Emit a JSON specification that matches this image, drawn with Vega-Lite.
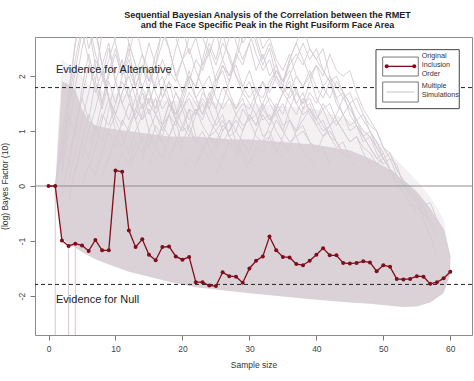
{
"$schema": "https://vega.github.io/schema/vega-lite/v6.json",
"autosize": "none",
"width": 437,
"height": 298,
"padding": {"left": 35, "top": 37, "right": 2, "bottom": 46},
"background": "white",
"title": {"text": ["Sequential Bayesian Analysis of the Correlation between the RMET", "and the Face Specific Peak in the Right Fusiform Face Area"], "fontSize": 9, "fontWeight": "bold", "font": "Liberation Sans", "color": "#222222", "anchor": "middle", "frame": "group", "dx": 14, "offset": 7, "lineHeight": 10.5},
"config": {
  "font": "Liberation Sans",
  "view": {"stroke": "#8c8c8c", "strokeWidth": 1},
  "axis": {"grid": false, "domain": false, "tickColor": "#777777", "tickSize": 5, "labelColor": "#444444", "labelFontSize": 8.5, "titleColor": "#333333", "titleFontSize": 8.5, "titleFontWeight": "normal", "labelFont": "Liberation Sans", "titleFont": "Liberation Sans"}
},
"datasets": {
  "red": [
    {"n":0,"bf":0},{"n":1,"bf":0},{"n":2,"bf":-0.99},{"n":3,"bf":-1.09},{"n":4,"bf":-1.05},{"n":5,"bf":-1.08},{"n":6,"bf":-1.18},{"n":7,"bf":-0.98},{"n":8,"bf":-1.17},{"n":9,"bf":-1.17},
    {"n":10,"bf":0.28},{"n":11,"bf":0.26},{"n":12,"bf":-0.81},{"n":13,"bf":-1.11},{"n":14,"bf":-0.97},{"n":15,"bf":-1.25},{"n":16,"bf":-1.35},{"n":17,"bf":-1.11},{"n":18,"bf":-1.10},{"n":19,"bf":-1.28},
    {"n":20,"bf":-1.34},{"n":21,"bf":-1.29},{"n":22,"bf":-1.75},{"n":23,"bf":-1.75},{"n":24,"bf":-1.81},{"n":25,"bf":-1.82},{"n":26,"bf":-1.57},{"n":27,"bf":-1.64},{"n":28,"bf":-1.65},{"n":29,"bf":-1.76},
    {"n":30,"bf":-1.50},{"n":31,"bf":-1.36},{"n":32,"bf":-1.28},{"n":33,"bf":-0.92},{"n":34,"bf":-1.17},{"n":35,"bf":-1.29},{"n":36,"bf":-1.30},{"n":37,"bf":-1.42},{"n":38,"bf":-1.44},{"n":39,"bf":-1.36},
    {"n":40,"bf":-1.25},{"n":41,"bf":-1.13},{"n":42,"bf":-1.26},{"n":43,"bf":-1.26},{"n":44,"bf":-1.40},{"n":45,"bf":-1.41},{"n":46,"bf":-1.40},{"n":47,"bf":-1.37},{"n":48,"bf":-1.39},{"n":49,"bf":-1.55},
    {"n":50,"bf":-1.44},{"n":51,"bf":-1.47},{"n":52,"bf":-1.69},{"n":53,"bf":-1.70},{"n":54,"bf":-1.69},{"n":55,"bf":-1.64},{"n":56,"bf":-1.65},{"n":57,"bf":-1.78},{"n":58,"bf":-1.75},{"n":59,"bf":-1.68},{"n":60,"bf":-1.56}
  ],
  "band": [
    {"n":1,"lo":0,"hi":0,"hi2":0},{"n":2,"lo":-0.95,"hi":1.9,"hi2":2.3},{"n":3,"lo":-1.05,"hi":1.85,"hi2":2.2},{"n":4,"lo":-1.12,"hi":1.75,"hi2":2.1},{"n":5,"lo":-1.2,"hi":1.4,"hi2":2.0},
    {"n":6,"lo":-1.27,"hi":1.2,"hi2":1.85},{"n":7,"lo":-1.33,"hi":1.1,"hi2":1.75},{"n":9,"lo":-1.43,"hi":1.05,"hi2":1.7},{"n":12,"lo":-1.56,"hi":1.0,"hi2":1.65},{"n":15,"lo":-1.65,"hi":0.95,"hi2":1.6},
    {"n":18,"lo":-1.74,"hi":0.9,"hi2":1.55},{"n":22,"lo":-1.84,"hi":0.9,"hi2":1.55},{"n":27,"lo":-1.91,"hi":0.85,"hi2":1.5},{"n":30,"lo":-1.95,"hi":0.85,"hi2":1.5},{"n":35,"lo":-2.01,"hi":0.8,"hi2":1.45},
    {"n":40,"lo":-2.07,"hi":0.75,"hi2":1.4},{"n":45,"lo":-2.12,"hi":0.65,"hi2":1.2},{"n":48,"lo":-2.14,"hi":0.5,"hi2":0.95},{"n":51,"lo":-2.18,"hi":0.3,"hi2":0.6},{"n":53,"lo":-2.2,"hi":0.1,"hi2":0.35},
    {"n":55,"lo":-2.19,"hi":-0.1,"hi2":0.1},{"n":57,"lo":-2.12,"hi":-0.4,"hi2":-0.2},{"n":59,"lo":-1.95,"hi":-0.8,"hi2":-0.6},{"n":60,"lo":-1.6,"hi":-1.3,"hi2":-1.3}
  ],
  "vert": [{"n":1,"top":0},{"n":3,"top":-1.05},{"n":4,"top":-1.1}],
  "legendText": [
    {"label":"Original","v":2.358},{"label":"Inclusion","v":2.195},{"label":"Order","v":2.044},{"label":"Multiple","v":1.813},{"label":"Simulations","v":1.649}
  ],
  "sims": [
    {"s":1,"n":1,"y":0},{"s":1,"n":2,"y":0.9},{"s":1,"n":3,"y":1.7},{"s":1,"n":4,"y":2.6},{"s":1,"n":5,"y":3.1},{"s":1,"n":6,"y":2.5},{"s":1,"n":7,"y":2.9},{"s":1,"n":8,"y":2.2},{"s":1,"n":9,"y":2.6},{"s":1,"n":10,"y":1.9},{"s":1,"n":11,"y":2.3},{"s":1,"n":12,"y":1.6},{"s":1,"n":13,"y":1.2},{"s":1,"n":14,"y":1.5},{"s":1,"n":15,"y":1.0},{"s":1,"n":16,"y":0.7},
    {"s":2,"n":1,"y":0},{"s":2,"n":2,"y":0.6},{"s":2,"n":3,"y":1.3},{"s":2,"n":4,"y":0.9},{"s":2,"n":5,"y":1.8},{"s":2,"n":6,"y":2.4},{"s":2,"n":7,"y":1.9},{"s":2,"n":8,"y":2.8},{"s":2,"n":9,"y":3.2},{"s":2,"n":10,"y":2.6},{"s":2,"n":11,"y":2.1},{"s":2,"n":12,"y":2.5},{"s":2,"n":13,"y":1.8},{"s":2,"n":14,"y":1.4},{"s":2,"n":15,"y":1.8},{"s":2,"n":16,"y":1.3},{"s":2,"n":17,"y":1.0},{"s":2,"n":18,"y":1.3},{"s":2,"n":19,"y":0.9},{"s":2,"n":20,"y":0.6},
    {"s":3,"n":2,"y":-0.2},{"s":3,"n":3,"y":0.5},{"s":3,"n":4,"y":1.1},{"s":3,"n":5,"y":1.6},{"s":3,"n":6,"y":1.2},{"s":3,"n":7,"y":1.9},{"s":3,"n":8,"y":1.5},{"s":3,"n":9,"y":2.1},{"s":3,"n":10,"y":2.5},{"s":3,"n":11,"y":2.0},{"s":3,"n":12,"y":2.4},{"s":3,"n":13,"y":2.9},{"s":3,"n":14,"y":2.4},{"s":3,"n":15,"y":1.9},{"s":3,"n":16,"y":2.2},{"s":3,"n":17,"y":1.6},{"s":3,"n":18,"y":1.9},{"s":3,"n":19,"y":1.4},{"s":3,"n":20,"y":1.1},{"s":3,"n":21,"y":1.4},{"s":3,"n":22,"y":0.9},{"s":3,"n":23,"y":0.7},{"s":3,"n":24,"y":0.5},
    {"s":4,"n":3,"y":-0.3},{"s":4,"n":4,"y":0.3},{"s":4,"n":5,"y":0.8},{"s":4,"n":6,"y":0.5},{"s":4,"n":7,"y":1.1},{"s":4,"n":8,"y":0.8},{"s":4,"n":9,"y":1.4},{"s":4,"n":10,"y":1.9},{"s":4,"n":11,"y":1.5},{"s":4,"n":12,"y":1.2},{"s":4,"n":13,"y":1.6},{"s":4,"n":14,"y":2.1},{"s":4,"n":15,"y":2.6},{"s":4,"n":16,"y":2.2},{"s":4,"n":17,"y":2.9},{"s":4,"n":18,"y":2.5},{"s":4,"n":19,"y":2.0},{"s":4,"n":20,"y":1.7},{"s":4,"n":21,"y":2.1},{"s":4,"n":22,"y":1.6},{"s":4,"n":23,"y":1.3},{"s":4,"n":24,"y":1.7},{"s":4,"n":25,"y":1.4},{"s":4,"n":26,"y":1.0},{"s":4,"n":27,"y":1.2},{"s":4,"n":28,"y":0.8},{"s":4,"n":29,"y":0.6},{"s":4,"n":30,"y":0.4},
    {"s":5,"n":5,"y":0.0},{"s":5,"n":6,"y":0.4},{"s":5,"n":7,"y":0.2},{"s":5,"n":8,"y":0.6},{"s":5,"n":9,"y":1.0},{"s":5,"n":10,"y":0.7},{"s":5,"n":11,"y":1.2},{"s":5,"n":12,"y":1.0},{"s":5,"n":13,"y":1.4},{"s":5,"n":14,"y":1.8},{"s":5,"n":15,"y":1.5},{"s":5,"n":16,"y":1.9},{"s":5,"n":17,"y":2.3},{"s":5,"n":18,"y":2.0},{"s":5,"n":19,"y":2.5},{"s":5,"n":20,"y":2.9},{"s":5,"n":21,"y":2.4},{"s":5,"n":22,"y":2.7},{"s":5,"n":23,"y":2.2},{"s":5,"n":24,"y":2.4},{"s":5,"n":25,"y":1.9},{"s":5,"n":26,"y":2.1},{"s":5,"n":27,"y":1.7},{"s":5,"n":28,"y":1.4},{"s":5,"n":29,"y":1.6},{"s":5,"n":30,"y":1.2},{"s":5,"n":31,"y":1.3},{"s":5,"n":32,"y":0.9},{"s":5,"n":33,"y":1.0},{"s":5,"n":34,"y":0.7},{"s":5,"n":35,"y":0.5},
    {"s":6,"n":10,"y":0.3},{"s":6,"n":11,"y":0.6},{"s":6,"n":12,"y":0.4},{"s":6,"n":13,"y":0.8},{"s":6,"n":14,"y":0.6},{"s":6,"n":15,"y":1.0},{"s":6,"n":16,"y":1.3},{"s":6,"n":17,"y":1.1},{"s":6,"n":18,"y":1.5},{"s":6,"n":19,"y":1.2},{"s":6,"n":20,"y":1.6},{"s":6,"n":21,"y":2.0},{"s":6,"n":22,"y":1.8},{"s":6,"n":23,"y":2.2},{"s":6,"n":24,"y":2.6},{"s":6,"n":25,"y":2.3},{"s":6,"n":26,"y":2.8},{"s":6,"n":27,"y":3.1},{"s":6,"n":28,"y":2.6},{"s":6,"n":29,"y":2.3},{"s":6,"n":30,"y":2.6},{"s":6,"n":31,"y":2.1},{"s":6,"n":32,"y":2.4},{"s":6,"n":33,"y":2.0},{"s":6,"n":34,"y":2.2},{"s":6,"n":35,"y":1.8},{"s":6,"n":36,"y":1.6},{"s":6,"n":37,"y":1.8},{"s":6,"n":38,"y":1.4},{"s":6,"n":39,"y":1.5},{"s":6,"n":40,"y":1.2},{"s":6,"n":41,"y":1.0},{"s":6,"n":42,"y":1.1},{"s":6,"n":43,"y":0.8},{"s":6,"n":44,"y":0.6},{"s":6,"n":45,"y":0.5},
    {"s":7,"n":15,"y":0.4},{"s":7,"n":16,"y":0.7},{"s":7,"n":17,"y":0.5},{"s":7,"n":18,"y":0.9},{"s":7,"n":19,"y":1.2},{"s":7,"n":20,"y":1.0},{"s":7,"n":21,"y":1.4},{"s":7,"n":22,"y":1.3},{"s":7,"n":23,"y":1.7},{"s":7,"n":24,"y":1.5},{"s":7,"n":25,"y":1.9},{"s":7,"n":26,"y":2.2},{"s":7,"n":27,"y":2.0},{"s":7,"n":28,"y":2.4},{"s":7,"n":29,"y":2.2},{"s":7,"n":30,"y":2.6},{"s":7,"n":31,"y":2.9},{"s":7,"n":32,"y":2.5},{"s":7,"n":33,"y":2.7},{"s":7,"n":34,"y":2.3},{"s":7,"n":35,"y":2.1},{"s":7,"n":36,"y":2.4},{"s":7,"n":37,"y":2.0},{"s":7,"n":38,"y":1.8},{"s":7,"n":39,"y":2.0},{"s":7,"n":40,"y":1.6},{"s":7,"n":41,"y":1.4},{"s":7,"n":42,"y":1.5},{"s":7,"n":43,"y":1.2},{"s":7,"n":44,"y":1.0},{"s":7,"n":45,"y":0.8},{"s":7,"n":46,"y":0.9},{"s":7,"n":47,"y":0.6},{"s":7,"n":48,"y":0.4},
    {"s":8,"n":20,"y":0.3},{"s":8,"n":21,"y":0.5},{"s":8,"n":22,"y":0.4},{"s":8,"n":23,"y":0.7},{"s":8,"n":24,"y":0.9},{"s":8,"n":25,"y":0.8},{"s":8,"n":26,"y":1.1},{"s":8,"n":27,"y":1.0},{"s":8,"n":28,"y":1.3},{"s":8,"n":29,"y":1.5},{"s":8,"n":30,"y":1.4},{"s":8,"n":31,"y":1.7},{"s":8,"n":32,"y":1.6},{"s":8,"n":33,"y":1.9},{"s":8,"n":34,"y":2.1},{"s":8,"n":35,"y":1.9},{"s":8,"n":36,"y":2.2},{"s":8,"n":37,"y":2.4},{"s":8,"n":38,"y":2.2},{"s":8,"n":39,"y":2.5},{"s":8,"n":40,"y":2.3},{"s":8,"n":41,"y":2.1},{"s":8,"n":42,"y":1.9},{"s":8,"n":43,"y":2.0},{"s":8,"n":44,"y":1.7},{"s":8,"n":45,"y":1.5},{"s":8,"n":46,"y":1.6},{"s":8,"n":47,"y":1.3},{"s":8,"n":48,"y":1.1},{"s":8,"n":49,"y":1.0},{"s":8,"n":50,"y":0.7},{"s":8,"n":51,"y":0.6},{"s":8,"n":52,"y":0.3},{"s":8,"n":53,"y":0.1},{"s":8,"n":54,"y":-0.2},{"s":8,"n":55,"y":-0.3},{"s":8,"n":56,"y":-0.6},{"s":8,"n":57,"y":-0.9},{"s":8,"n":58,"y":-1.3},
    {"s":9,"n":30,"y":0.4},{"s":9,"n":31,"y":0.7},{"s":9,"n":32,"y":0.6},{"s":9,"n":33,"y":0.9},{"s":9,"n":34,"y":1.2},{"s":9,"n":35,"y":1.0},{"s":9,"n":36,"y":1.4},{"s":9,"n":37,"y":1.7},{"s":9,"n":38,"y":1.5},{"s":9,"n":39,"y":1.9},{"s":9,"n":40,"y":2.2},{"s":9,"n":41,"y":2.0},{"s":9,"n":42,"y":2.4},{"s":9,"n":43,"y":2.1},{"s":9,"n":44,"y":2.0},{"s":9,"n":45,"y":2.1},{"s":9,"n":46,"y":1.7},{"s":9,"n":47,"y":1.4},{"s":9,"n":48,"y":1.2},{"s":9,"n":49,"y":1.0},{"s":9,"n":50,"y":0.7},{"s":9,"n":51,"y":0.5},{"s":9,"n":52,"y":0.4},{"s":9,"n":53,"y":0.0},{"s":9,"n":54,"y":-0.1},{"s":9,"n":55,"y":-0.2},{"s":9,"n":56,"y":-0.35},{"s":9,"n":57,"y":-0.3},{"s":9,"n":58,"y":-0.6},{"s":9,"n":59,"y":-0.8},{"s":9,"n":60,"y":-1.3},
    {"s":10,"n":25,"y":0.2},{"s":10,"n":26,"y":0.5},{"s":10,"n":27,"y":0.8},{"s":10,"n":28,"y":0.6},{"s":10,"n":29,"y":1.0},{"s":10,"n":30,"y":1.3},{"s":10,"n":31,"y":1.1},{"s":10,"n":32,"y":1.5},{"s":10,"n":33,"y":1.8},{"s":10,"n":34,"y":2.1},{"s":10,"n":35,"y":1.9},{"s":10,"n":36,"y":2.3},{"s":10,"n":37,"y":2.6},{"s":10,"n":38,"y":2.3},{"s":10,"n":39,"y":2.0},{"s":10,"n":40,"y":2.2},{"s":10,"n":41,"y":1.8},{"s":10,"n":42,"y":2.0},{"s":10,"n":43,"y":1.6},{"s":10,"n":44,"y":1.3},{"s":10,"n":45,"y":1.5},{"s":10,"n":46,"y":1.1},{"s":10,"n":47,"y":0.9},{"s":10,"n":48,"y":1.0},{"s":10,"n":49,"y":0.7},{"s":10,"n":50,"y":0.5},{"s":10,"n":51,"y":0.6},{"s":10,"n":52,"y":0.3},{"s":10,"n":53,"y":0.1},{"s":10,"n":54,"y":0.0},{"s":10,"n":55,"y":-0.2},{"s":10,"n":56,"y":-0.4},{"s":10,"n":57,"y":-0.7},
    {"s":11,"n":8,"y":0.2},{"s":11,"n":9,"y":0.5},{"s":11,"n":10,"y":0.9},{"s":11,"n":11,"y":0.7},{"s":11,"n":12,"y":1.1},{"s":11,"n":13,"y":1.4},{"s":11,"n":14,"y":1.2},{"s":11,"n":15,"y":1.6},{"s":11,"n":16,"y":1.4},{"s":11,"n":17,"y":1.8},{"s":11,"n":18,"y":2.1},{"s":11,"n":19,"y":1.9},{"s":11,"n":20,"y":2.3},{"s":11,"n":21,"y":2.7},{"s":11,"n":22,"y":3.1},{"s":11,"n":23,"y":2.7},{"s":11,"n":24,"y":2.4},{"s":11,"n":25,"y":2.8},{"s":11,"n":26,"y":2.3},{"s":11,"n":27,"y":2.0},{"s":11,"n":28,"y":2.2},{"s":11,"n":29,"y":1.8},{"s":11,"n":30,"y":1.6},{"s":11,"n":31,"y":1.8},{"s":11,"n":32,"y":1.4},{"s":11,"n":33,"y":1.2},{"s":11,"n":34,"y":1.3},{"s":11,"n":35,"y":1.0},{"s":11,"n":36,"y":0.8},{"s":11,"n":37,"y":0.9},{"s":11,"n":38,"y":0.6},{"s":11,"n":39,"y":0.5},{"s":11,"n":40,"y":0.3},
    {"s":12,"n":2,"y":0.2},{"s":12,"n":3,"y":1.0},{"s":12,"n":4,"y":1.8},{"s":12,"n":5,"y":2.5},{"s":12,"n":6,"y":3.0},{"s":12,"n":7,"y":2.4},{"s":12,"n":8,"y":2.0},{"s":12,"n":9,"y":2.5},{"s":12,"n":10,"y":1.9},{"s":12,"n":11,"y":1.5},{"s":12,"n":12,"y":1.8},{"s":12,"n":13,"y":1.2},{"s":12,"n":14,"y":0.8},
    {"s":13,"n":3,"y":0.3},{"s":13,"n":4,"y":1.1},{"s":13,"n":5,"y":1.6},{"s":13,"n":6,"y":2.2},{"s":13,"n":7,"y":1.8},{"s":13,"n":8,"y":1.4},{"s":13,"n":9,"y":1.9},{"s":13,"n":10,"y":1.5},{"s":13,"n":11,"y":2.0},{"s":13,"n":12,"y":2.6},{"s":13,"n":13,"y":2.2},{"s":13,"n":14,"y":1.7},{"s":13,"n":15,"y":1.3},{"s":13,"n":16,"y":1.6},{"s":13,"n":17,"y":1.1},{"s":13,"n":18,"y":0.9},{"s":13,"n":19,"y":1.2},{"s":13,"n":20,"y":0.7},
    {"s":14,"n":12,"y":0.3},{"s":14,"n":13,"y":0.6},{"s":14,"n":14,"y":0.9},{"s":14,"n":15,"y":0.7},{"s":14,"n":16,"y":1.1},{"s":14,"n":17,"y":0.9},{"s":14,"n":18,"y":1.3},{"s":14,"n":19,"y":1.7},{"s":14,"n":20,"y":1.5},{"s":14,"n":21,"y":1.9},{"s":14,"n":22,"y":2.3},{"s":14,"n":23,"y":2.1},{"s":14,"n":24,"y":2.5},{"s":14,"n":25,"y":2.2},{"s":14,"n":26,"y":2.6},{"s":14,"n":27,"y":2.4},{"s":14,"n":28,"y":2.0},{"s":14,"n":29,"y":1.8},{"s":14,"n":30,"y":2.1},{"s":14,"n":31,"y":1.7},{"s":14,"n":32,"y":1.9},{"s":14,"n":33,"y":1.5},{"s":14,"n":34,"y":1.3},{"s":14,"n":35,"y":1.5},{"s":14,"n":36,"y":1.2},{"s":14,"n":37,"y":1.0},{"s":14,"n":38,"y":1.1},{"s":14,"n":39,"y":0.8},{"s":14,"n":40,"y":0.6},{"s":14,"n":41,"y":0.7},{"s":14,"n":42,"y":0.4},
    {"s":15,"n":18,"y":0.5},{"s":15,"n":19,"y":0.8},{"s":15,"n":20,"y":1.1},{"s":15,"n":21,"y":0.9},{"s":15,"n":22,"y":1.3},{"s":15,"n":23,"y":1.6},{"s":15,"n":24,"y":1.4},{"s":15,"n":25,"y":1.8},{"s":15,"n":26,"y":2.2},{"s":15,"n":27,"y":1.9},{"s":15,"n":28,"y":2.3},{"s":15,"n":29,"y":2.7},{"s":15,"n":30,"y":3.0},{"s":15,"n":31,"y":2.6},{"s":15,"n":32,"y":2.2},{"s":15,"n":33,"y":2.5},{"s":15,"n":34,"y":2.0},{"s":15,"n":35,"y":1.7},{"s":15,"n":36,"y":1.9},{"s":15,"n":37,"y":1.5},{"s":15,"n":38,"y":1.7},{"s":15,"n":39,"y":1.3},{"s":15,"n":40,"y":1.1},{"s":15,"n":41,"y":1.2},{"s":15,"n":42,"y":0.9},{"s":15,"n":43,"y":0.7},{"s":15,"n":44,"y":0.8},{"s":15,"n":45,"y":0.5},{"s":15,"n":46,"y":0.3},
    {"s":16,"n":4,"y":0.2},{"s":16,"n":5,"y":0.8},{"s":16,"n":6,"y":1.3},{"s":16,"n":7,"y":1.0},{"s":16,"n":8,"y":1.5},{"s":16,"n":9,"y":2.0},{"s":16,"n":10,"y":2.4},{"s":16,"n":11,"y":2.0},{"s":16,"n":12,"y":2.3},{"s":16,"n":13,"y":1.8},{"s":16,"n":14,"y":2.2},{"s":16,"n":15,"y":1.7},{"s":16,"n":16,"y":1.4},{"s":16,"n":17,"y":1.8},{"s":16,"n":18,"y":1.5},{"s":16,"n":19,"y":1.2},{"s":16,"n":20,"y":1.4},{"s":16,"n":21,"y":1.0},{"s":16,"n":22,"y":0.8},{"s":16,"n":23,"y":1.0},{"s":16,"n":24,"y":0.7},{"s":16,"n":25,"y":0.5},{"s":16,"n":26,"y":0.3},
    {"s":17,"n":22,"y":0.4},{"s":17,"n":23,"y":0.6},{"s":17,"n":24,"y":0.9},{"s":17,"n":25,"y":0.7},{"s":17,"n":26,"y":1.0},{"s":17,"n":27,"y":1.2},{"s":17,"n":28,"y":1.0},{"s":17,"n":29,"y":1.4},{"s":17,"n":30,"y":1.2},{"s":17,"n":31,"y":1.6},{"s":17,"n":32,"y":1.9},{"s":17,"n":33,"y":1.7},{"s":17,"n":34,"y":2.0},{"s":17,"n":35,"y":1.8},{"s":17,"n":36,"y":2.3},{"s":17,"n":37,"y":2.6},{"s":17,"n":38,"y":2.9},{"s":17,"n":39,"y":2.5},{"s":17,"n":40,"y":2.3},{"s":17,"n":41,"y":2.5},{"s":17,"n":42,"y":2.0},{"s":17,"n":43,"y":1.8},{"s":17,"n":44,"y":1.6},{"s":17,"n":45,"y":1.7},{"s":17,"n":46,"y":1.4},{"s":17,"n":47,"y":1.2},{"s":17,"n":48,"y":1.0},{"s":17,"n":49,"y":0.8},{"s":17,"n":50,"y":0.6},
    {"s":18,"n":6,"y":0.3},{"s":18,"n":7,"y":0.7},{"s":18,"n":8,"y":1.2},{"s":18,"n":9,"y":1.6},{"s":18,"n":10,"y":1.3},{"s":18,"n":11,"y":1.7},{"s":18,"n":12,"y":2.1},{"s":18,"n":13,"y":1.8},{"s":18,"n":14,"y":2.2},{"s":18,"n":15,"y":1.9},{"s":18,"n":16,"y":2.4},{"s":18,"n":17,"y":2.8},{"s":18,"n":18,"y":2.5},{"s":18,"n":19,"y":2.0},{"s":18,"n":20,"y":2.3},{"s":18,"n":21,"y":1.9},{"s":18,"n":22,"y":1.6},{"s":18,"n":23,"y":1.8},{"s":18,"n":24,"y":1.4},{"s":18,"n":25,"y":1.1},{"s":18,"n":26,"y":1.3},{"s":18,"n":27,"y":0.9},{"s":18,"n":28,"y":0.7},{"s":18,"n":29,"y":0.5},{"s":18,"n":30,"y":0.3},
    {"s":19,"n":28,"y":0.5},{"s":19,"n":29,"y":0.8},{"s":19,"n":30,"y":0.6},{"s":19,"n":31,"y":1.0},{"s":19,"n":32,"y":1.3},{"s":19,"n":33,"y":1.1},{"s":19,"n":34,"y":1.5},{"s":19,"n":35,"y":1.3},{"s":19,"n":36,"y":1.7},{"s":19,"n":37,"y":2.0},{"s":19,"n":38,"y":1.8},{"s":19,"n":39,"y":2.1},{"s":19,"n":40,"y":1.8},{"s":19,"n":41,"y":1.6},{"s":19,"n":42,"y":1.9},{"s":19,"n":43,"y":1.5},{"s":19,"n":44,"y":1.3},{"s":19,"n":45,"y":1.1},{"s":19,"n":46,"y":1.2},{"s":19,"n":47,"y":0.9},{"s":19,"n":48,"y":0.7},{"s":19,"n":49,"y":0.5},{"s":19,"n":50,"y":0.6},{"s":19,"n":51,"y":0.3},{"s":19,"n":52,"y":0.1},{"s":19,"n":53,"y":-0.1},{"s":19,"n":54,"y":-0.3},{"s":19,"n":55,"y":-0.5},
    {"s":20,"n":1,"y":0},{"s":20,"n":2,"y":0.7},{"s":20,"n":3,"y":1.5},{"s":20,"n":4,"y":2.3},{"s":20,"n":5,"y":2.9},{"s":20,"n":6,"y":3.3},{"s":20,"n":7,"y":2.8},{"s":20,"n":8,"y":2.2},{"s":20,"n":9,"y":1.6},{"s":20,"n":10,"y":1.0},
    {"s":21,"n":14,"y":0.5},{"s":21,"n":15,"y":0.9},{"s":21,"n":16,"y":0.7},{"s":21,"n":17,"y":1.1},{"s":21,"n":18,"y":1.5},{"s":21,"n":19,"y":1.3},{"s":21,"n":20,"y":1.7},{"s":21,"n":21,"y":2.0},{"s":21,"n":22,"y":1.8},{"s":21,"n":23,"y":2.3},{"s":21,"n":24,"y":2.8},{"s":21,"n":25,"y":3.2},{"s":21,"n":26,"y":2.8},{"s":21,"n":27,"y":2.3},{"s":21,"n":28,"y":2.0},{"s":21,"n":29,"y":1.7},{"s":21,"n":30,"y":1.9},{"s":21,"n":31,"y":1.5},{"s":21,"n":32,"y":1.2},{"s":21,"n":33,"y":1.3},{"s":21,"n":34,"y":1.0},{"s":21,"n":35,"y":0.8},{"s":21,"n":36,"y":0.6},
    {"s":22,"n":34,"y":0.6},{"s":22,"n":35,"y":0.9},{"s":22,"n":36,"y":1.2},{"s":22,"n":37,"y":1.0},{"s":22,"n":38,"y":1.4},{"s":22,"n":39,"y":1.7},{"s":22,"n":40,"y":1.5},{"s":22,"n":41,"y":1.8},{"s":22,"n":42,"y":1.6},{"s":22,"n":43,"y":1.9},{"s":22,"n":44,"y":1.7},{"s":22,"n":45,"y":1.5},{"s":22,"n":46,"y":1.2},{"s":22,"n":47,"y":1.3},{"s":22,"n":48,"y":1.0},{"s":22,"n":49,"y":0.8},{"s":22,"n":50,"y":0.5},{"s":22,"n":51,"y":0.3},{"s":22,"n":52,"y":0.0},{"s":22,"n":53,"y":-0.1},{"s":22,"n":54,"y":-0.3},{"s":22,"n":55,"y":-0.4},{"s":22,"n":56,"y":-0.5},{"s":22,"n":57,"y":-0.7},{"s":22,"n":58,"y":-0.9},
    {"s":23,"n":2,"y":0.3},{"s":23,"n":3,"y":1.3},{"s":23,"n":4,"y":2.1},{"s":23,"n":5,"y":2.8},{"s":23,"n":6,"y":2.3},{"s":23,"n":7,"y":1.7},{"s":23,"n":8,"y":2.1},{"s":23,"n":9,"y":1.6},{"s":23,"n":10,"y":1.2},{"s":23,"n":11,"y":0.9},{"s":23,"n":12,"y":0.6},
    {"s":24,"n":3,"y":0.1},{"s":24,"n":4,"y":0.6},{"s":24,"n":5,"y":1.2},{"s":24,"n":6,"y":1.7},{"s":24,"n":7,"y":2.3},{"s":24,"n":8,"y":2.0},{"s":24,"n":9,"y":1.6},{"s":24,"n":10,"y":1.3},{"s":24,"n":11,"y":1.7},{"s":24,"n":12,"y":2.0},{"s":24,"n":13,"y":1.6},{"s":24,"n":14,"y":1.2},{"s":24,"n":15,"y":1.4},{"s":24,"n":16,"y":1.0},{"s":24,"n":17,"y":0.8},{"s":24,"n":18,"y":0.6},
    {"s":25,"n":8,"y":0.6},{"s":25,"n":9,"y":1.0},{"s":25,"n":10,"y":1.3},{"s":25,"n":11,"y":1.1},{"s":25,"n":12,"y":1.5},{"s":25,"n":13,"y":1.3},{"s":25,"n":14,"y":1.7},{"s":25,"n":15,"y":1.5},{"s":25,"n":16,"y":1.3},{"s":25,"n":17,"y":1.6},{"s":25,"n":18,"y":1.9},{"s":25,"n":19,"y":1.7},{"s":25,"n":20,"y":1.4},{"s":25,"n":21,"y":1.6},{"s":25,"n":22,"y":1.3},{"s":25,"n":23,"y":1.5},{"s":25,"n":24,"y":1.2},{"s":25,"n":25,"y":1.0},{"s":25,"n":26,"y":1.2},{"s":25,"n":27,"y":0.9},{"s":25,"n":28,"y":1.0},{"s":25,"n":29,"y":0.8},{"s":25,"n":30,"y":0.6},
    {"s":26,"n":16,"y":0.8},{"s":26,"n":17,"y":1.1},{"s":26,"n":18,"y":1.3},{"s":26,"n":19,"y":1.1},{"s":26,"n":20,"y":1.4},{"s":26,"n":21,"y":1.7},{"s":26,"n":22,"y":1.5},{"s":26,"n":23,"y":1.3},{"s":26,"n":24,"y":1.6},{"s":26,"n":25,"y":1.4},{"s":26,"n":26,"y":1.8},{"s":26,"n":27,"y":1.6},{"s":26,"n":28,"y":1.4},{"s":26,"n":29,"y":1.7},{"s":26,"n":30,"y":1.5},{"s":26,"n":31,"y":1.3},{"s":26,"n":32,"y":1.5},{"s":26,"n":33,"y":1.2},{"s":26,"n":34,"y":1.4},{"s":26,"n":35,"y":1.1},{"s":26,"n":36,"y":1.2},{"s":26,"n":37,"y":0.9},{"s":26,"n":38,"y":1.0},{"s":26,"n":39,"y":0.8},{"s":26,"n":40,"y":0.7},
    {"s":27,"n":26,"y":0.8},{"s":27,"n":27,"y":1.0},{"s":27,"n":28,"y":1.2},{"s":27,"n":29,"y":1.0},{"s":27,"n":30,"y":1.3},{"s":27,"n":31,"y":1.1},{"s":27,"n":32,"y":1.4},{"s":27,"n":33,"y":1.6},{"s":27,"n":34,"y":1.4},{"s":27,"n":35,"y":1.7},{"s":27,"n":36,"y":1.5},{"s":27,"n":37,"y":1.3},{"s":27,"n":38,"y":1.6},{"s":27,"n":39,"y":1.4},{"s":27,"n":40,"y":1.2},{"s":27,"n":41,"y":1.4},{"s":27,"n":42,"y":1.1},{"s":27,"n":43,"y":1.2},{"s":27,"n":44,"y":1.0},{"s":27,"n":45,"y":0.8},{"s":27,"n":46,"y":0.9},{"s":27,"n":47,"y":0.7},{"s":27,"n":48,"y":0.6},{"s":27,"n":49,"y":0.4},{"s":27,"n":50,"y":0.5},{"s":27,"n":51,"y":0.3},{"s":27,"n":52,"y":0.2},
    {"s":28,"n":36,"y":0.7},{"s":28,"n":37,"y":1.0},{"s":28,"n":38,"y":1.2},{"s":28,"n":39,"y":1.4},{"s":28,"n":40,"y":1.2},{"s":28,"n":41,"y":1.5},{"s":28,"n":42,"y":1.3},{"s":28,"n":43,"y":1.1},{"s":28,"n":44,"y":1.3},{"s":28,"n":45,"y":1.0},{"s":28,"n":46,"y":1.1},{"s":28,"n":47,"y":0.8},{"s":28,"n":48,"y":0.9},{"s":28,"n":49,"y":0.6},{"s":28,"n":50,"y":0.4},{"s":28,"n":51,"y":0.5},{"s":28,"n":52,"y":0.2},{"s":28,"n":53,"y":0.0},{"s":28,"n":54,"y":-0.1},{"s":28,"n":55,"y":-0.3},{"s":28,"n":56,"y":-0.5},
    {"s":29,"n":5,"y":0.5},{"s":29,"n":6,"y":1.0},{"s":29,"n":7,"y":1.4},{"s":29,"n":8,"y":1.9},{"s":29,"n":9,"y":2.3},{"s":29,"n":10,"y":2.7},{"s":29,"n":11,"y":3.1},{"s":29,"n":12,"y":2.6},{"s":29,"n":13,"y":2.2},{"s":29,"n":14,"y":1.8},{"s":29,"n":15,"y":2.1},{"s":29,"n":16,"y":1.7},{"s":29,"n":17,"y":1.4},{"s":29,"n":18,"y":1.6},{"s":29,"n":19,"y":1.2},{"s":29,"n":20,"y":1.0},{"s":29,"n":21,"y":1.1},{"s":29,"n":22,"y":0.8},
    {"s":30,"n":12,"y":0.6},{"s":30,"n":13,"y":1.0},{"s":30,"n":14,"y":1.3},{"s":30,"n":15,"y":1.8},{"s":30,"n":16,"y":2.2},{"s":30,"n":17,"y":2.6},{"s":30,"n":18,"y":3.0},{"s":30,"n":19,"y":2.7},{"s":30,"n":20,"y":2.3},{"s":30,"n":21,"y":2.5},{"s":30,"n":22,"y":2.1},{"s":30,"n":23,"y":1.8},{"s":30,"n":24,"y":2.0},{"s":30,"n":25,"y":1.6},{"s":30,"n":26,"y":1.4},{"s":30,"n":27,"y":1.6},{"s":30,"n":28,"y":1.3},{"s":30,"n":29,"y":1.1},{"s":30,"n":30,"y":1.2},{"s":30,"n":31,"y":0.9},{"s":30,"n":32,"y":0.8},{"s":30,"n":33,"y":0.9},{"s":30,"n":34,"y":0.6},
    {"s":31,"n":20,"y":0.8},{"s":31,"n":21,"y":1.1},{"s":31,"n":22,"y":1.4},{"s":31,"n":23,"y":1.2},{"s":31,"n":24,"y":1.6},{"s":31,"n":25,"y":2.0},{"s":31,"n":26,"y":2.3},{"s":31,"n":27,"y":2.7},{"s":31,"n":28,"y":3.0},{"s":31,"n":29,"y":2.6},{"s":31,"n":30,"y":2.8},{"s":31,"n":31,"y":2.4},{"s":31,"n":32,"y":2.1},{"s":31,"n":33,"y":2.3},{"s":31,"n":34,"y":1.9},{"s":31,"n":35,"y":1.7},{"s":31,"n":36,"y":1.8},{"s":31,"n":37,"y":1.5},{"s":31,"n":38,"y":1.3},{"s":31,"n":39,"y":1.4},{"s":31,"n":40,"y":1.1},{"s":31,"n":41,"y":0.9},{"s":31,"n":42,"y":1.0},{"s":31,"n":43,"y":0.8},{"s":31,"n":44,"y":0.6},
    {"s":32,"n":2,"y":0.5},{"s":32,"n":3,"y":1.6},{"s":32,"n":4,"y":2.6},{"s":32,"n":5,"y":3.3},{"s":32,"n":6,"y":2.9},{"s":32,"n":7,"y":2.2},{"s":32,"n":8,"y":1.5},
    {"s":33,"n":7,"y":0.9},{"s":33,"n":8,"y":1.3},{"s":33,"n":9,"y":1.1},{"s":33,"n":10,"y":1.5},{"s":33,"n":11,"y":1.9},{"s":33,"n":12,"y":1.6},{"s":33,"n":13,"y":2.0},{"s":33,"n":14,"y":2.4},{"s":33,"n":15,"y":2.1},{"s":33,"n":16,"y":1.8},{"s":33,"n":17,"y":2.0},{"s":33,"n":18,"y":1.6},{"s":33,"n":19,"y":1.3},{"s":33,"n":20,"y":1.5},{"s":33,"n":21,"y":1.2},{"s":33,"n":22,"y":1.4},{"s":33,"n":23,"y":1.1},{"s":33,"n":24,"y":0.9},{"s":33,"n":25,"y":1.0},{"s":33,"n":26,"y":0.8},
    {"s":34,"n":32,"y":0.8},{"s":34,"n":33,"y":1.1},{"s":34,"n":34,"y":1.4},{"s":34,"n":35,"y":1.7},{"s":34,"n":36,"y":2.0},{"s":34,"n":37,"y":2.3},{"s":34,"n":38,"y":2.6},{"s":34,"n":39,"y":2.3},{"s":34,"n":40,"y":2.5},{"s":34,"n":41,"y":2.1},{"s":34,"n":42,"y":1.9},{"s":34,"n":43,"y":1.6},{"s":34,"n":44,"y":1.7},{"s":34,"n":45,"y":1.3},{"s":34,"n":46,"y":1.1},{"s":34,"n":47,"y":0.9},{"s":34,"n":48,"y":0.7},{"s":34,"n":49,"y":0.5},{"s":34,"n":50,"y":0.4},
    {"s":35,"n":40,"y":0.6},{"s":35,"n":41,"y":0.9},{"s":35,"n":42,"y":1.1},{"s":35,"n":43,"y":1.3},{"s":35,"n":44,"y":1.6},{"s":35,"n":45,"y":1.4},{"s":35,"n":46,"y":1.2},{"s":35,"n":47,"y":1.0},{"s":35,"n":48,"y":0.9},{"s":35,"n":49,"y":0.7},{"s":35,"n":50,"y":0.5},{"s":35,"n":51,"y":0.3},{"s":35,"n":52,"y":0.2},{"s":35,"n":53,"y":0.0},{"s":35,"n":54,"y":-0.1},{"s":35,"n":55,"y":-0.3},{"s":35,"n":56,"y":-0.4},{"s":35,"n":57,"y":-0.6},{"s":35,"n":58,"y":-0.8},
    {"s":36,"n":24,"y":0.9},{"s":36,"n":25,"y":1.2},{"s":36,"n":26,"y":1.5},{"s":36,"n":27,"y":1.9},{"s":36,"n":28,"y":2.4},{"s":36,"n":29,"y":2.9},{"s":36,"n":30,"y":3.2},{"s":36,"n":31,"y":2.7},{"s":36,"n":32,"y":2.3},{"s":36,"n":33,"y":2.6},{"s":36,"n":34,"y":2.2},{"s":36,"n":35,"y":1.9},{"s":36,"n":36,"y":2.1},{"s":36,"n":37,"y":1.7},{"s":36,"n":38,"y":1.5},{"s":36,"n":39,"y":1.6},{"s":36,"n":40,"y":1.3},{"s":36,"n":41,"y":1.1},{"s":36,"n":42,"y":0.9},{"s":36,"n":43,"y":0.8},{"s":36,"n":44,"y":0.6}
  ]
},
"encoding": {
  "x": {"type": "quantitative", "scale": {"domain": [-2.02, 63.24], "nice": false, "zero": false}, "axis": {"values": [0,10,20,30,40,50,60], "title": "Sample size", "labelPadding": 4, "titlePadding": 8}},
  "y": {"type": "quantitative", "scale": {"domain": [-2.71, 2.71], "nice": false, "zero": false}, "axis": {"values": [-2,-1,0,1,2], "labelExpr": "'' + datum.value", "labelAngle": 270, "labelAlign": "center", "labelBaseline": "bottom", "labelPadding": 4, "title": "(log) Bayes Factor (10)", "titlePadding": 8}}
},
"layer": [
  {"data": {"name": "band"}, "mark": {"type": "area", "color": "#dad2d7", "opacity": 1, "clip": true},
   "encoding": {"x": {"field": "n"}, "y": {"field": "lo"}, "y2": {"field": "hi"}}},
  {"data": {"name": "band"}, "mark": {"type": "area", "color": "#dad2d7", "opacity": 0.3, "clip": true},
   "encoding": {"x": {"field": "n"}, "y": {"field": "hi"}, "y2": {"field": "hi2"}}},
  {"data": {"name": "sims"}, "mark": {"type": "line", "color": "#d4ccd1", "strokeWidth": 0.9, "clip": true},
   "encoding": {"x": {"field": "n"}, "y": {"field": "y"}, "detail": {"field": "s", "type": "nominal"}}},
  {"data": {"name": "vert"}, "mark": {"type": "rule", "color": "#d2cacf", "strokeWidth": 1, "clip": true},
   "encoding": {"x": {"field": "n"}, "y": {"field": "top"}, "y2": {"datum": -2.71}}},
  {"data": {"values": [{"v": 0}]}, "mark": {"type": "rule", "color": "#8f8f8f", "strokeWidth": 1.2},
   "encoding": {"y": {"field": "v"}}},
  {"data": {"values": [{"v": 1.79}, {"v": -1.79}]}, "mark": {"type": "rule", "color": "#222222", "strokeWidth": 1, "strokeDash": [4, 3]},
   "encoding": {"y": {"field": "v"}}},
  {"data": {"name": "red"}, "mark": {"type": "line", "color": "#800d1c", "strokeWidth": 1.3},
   "encoding": {"x": {"field": "n"}, "y": {"field": "bf"}}},
  {"data": {"name": "red"}, "mark": {"type": "point", "filled": true, "color": "#800d1c", "size": 16, "opacity": 1},
   "encoding": {"x": {"field": "n"}, "y": {"field": "bf"}}},
  {"data": {"values": [{"label": "Evidence for Alternative", "n": 1.12, "v": 2.116}, {"label": "Evidence for Null", "n": 1.12, "v": -2.078}]},
   "mark": {"type": "text", "align": "left", "baseline": "middle", "fontSize": 11, "color": "#222222"},
   "encoding": {"x": {"field": "n"}, "y": {"field": "v"}, "text": {"field": "label"}}},
  {"data": {"values": [{"box": "legend"}]}, "mark": {"type": "rect", "fill": "white", "stroke": "#444444", "strokeWidth": 1},
   "encoding": {"x": {"datum": 48.9}, "x2": {"datum": 61.34}, "y": {"datum": 2.48}, "y2": {"datum": 1.407}}},
  {"data": {"values": [{"box": "original"}]}, "mark": {"type": "rect", "fill": "white", "stroke": "#555555", "strokeWidth": 0.8},
   "encoding": {"x": {"datum": 49.9}, "x2": {"datum": 55.22}, "y": {"datum": 2.345}, "y2": {"datum": 2.0}}},
  {"data": {"values": [{"box": "simulations"}]}, "mark": {"type": "rect", "fill": "white", "stroke": "#555555", "strokeWidth": 0.8},
   "encoding": {"x": {"datum": 49.9}, "x2": {"datum": 55.22}, "y": {"datum": 1.891}, "y2": {"datum": 1.527}}},
  {"data": {"values": [{"key": "original"}]}, "mark": {"type": "rule", "color": "#800d1c", "strokeWidth": 1.3},
   "encoding": {"x": {"datum": 50.5}, "x2": {"datum": 54.62}, "y": {"datum": 2.176}}},
  {"data": {"values": [{"key": "original"}]}, "mark": {"type": "point", "filled": true, "color": "#800d1c", "size": 16, "opacity": 1},
   "encoding": {"x": {"datum": 50.5}, "y": {"datum": 2.176}}},
  {"data": {"values": [{"key": "original"}]}, "mark": {"type": "point", "filled": true, "color": "#800d1c", "size": 16, "opacity": 1},
   "encoding": {"x": {"datum": 54.62}, "y": {"datum": 2.176}}},
  {"data": {"values": [{"key": "simulations"}]}, "mark": {"type": "rule", "color": "#c8c0c5", "strokeWidth": 1},
   "encoding": {"x": {"datum": 50.5}, "x2": {"datum": 54.62}, "y": {"datum": 1.709}}},
  {"data": {"name": "legendText"},
   "mark": {"type": "text", "align": "left", "baseline": "middle", "fontSize": 7.2, "color": "#333333"},
   "encoding": {"x": {"datum": 55.73}, "y": {"field": "v"}, "text": {"field": "label"}}}
]
}
